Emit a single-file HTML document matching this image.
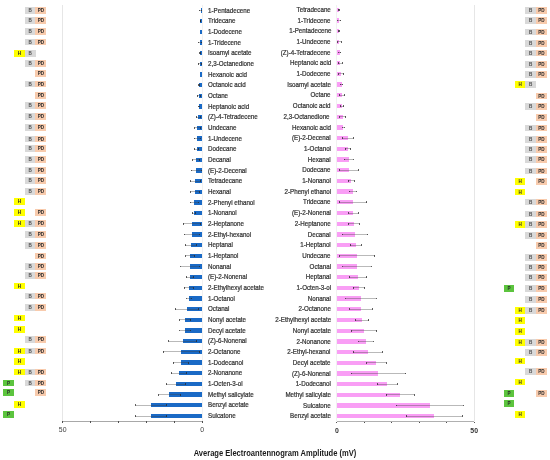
<!DOCTYPE html>
<html><head><meta charset="utf-8"><style>
html,body{margin:0;padding:0;background:#fff;}
body{width:550px;height:460px;position:relative;overflow:hidden;font-family:"Liberation Sans",sans-serif;}
.a{position:absolute;}
.t{position:absolute;font-size:6.7px;line-height:8px;height:8px;color:#333333;white-space:nowrap;-webkit-text-stroke:0.22px #333333;transform:scaleX(0.93);}
.ll{left:208.4px;transform-origin:0 50%;}
.rl{right:219.10px;text-align:right;transform-origin:100% 50%;}
.tag{position:absolute;width:10.9px;height:6.7px;line-height:7.90px;font-size:4.6px;font-weight:bold;text-align:center;color:#2a2a2a;}
.tg-B{color:#4d4d4d;}
.n{position:absolute;width:20px;text-align:center;font-size:6.9px;line-height:8px;color:#404040;}
.n.b{font-weight:bold;color:#333;}
.title{position:absolute;left:0;width:550px;top:447.6px;text-align:center;font-weight:bold;font-size:8.3px;line-height:10px;color:#1a1a1a;white-space:nowrap;transform:scaleX(0.91);transform-origin:274.9px 50%;}
</style></head><body>
<div class="a" style="left:62.10px;top:4.60px;width:1.00px;height:416.60px;background:#e6e6e6;"></div>
<div class="a" style="left:473.70px;top:4.60px;width:1.00px;height:416.60px;background:#e6e6e6;"></div>
<div class="a" style="left:201.70px;top:4.60px;width:1.00px;height:416.60px;background:#f1f1f1;"></div>
<div class="a" style="left:336.40px;top:4.60px;width:1.00px;height:416.60px;background:#f1f1f1;"></div>
<div class="a" style="left:62.30px;top:420.50px;width:140.20px;height:1.40px;background:#a8a8a8;"></div>
<div class="a" style="left:336.60px;top:421.00px;width:137.90px;height:1.40px;background:#b0b0b0;"></div>
<div class="a" style="left:62.10px;top:421.00px;width:1.00px;height:1.60px;background:#505050;"></div>
<div class="a" style="left:336.40px;top:421.50px;width:1.00px;height:1.60px;background:#505050;"></div>
<div class="a" style="left:90.02px;top:421.00px;width:1.00px;height:1.60px;background:#505050;"></div>
<div class="a" style="left:363.86px;top:421.50px;width:1.00px;height:1.60px;background:#505050;"></div>
<div class="a" style="left:117.94px;top:421.00px;width:1.00px;height:1.60px;background:#505050;"></div>
<div class="a" style="left:391.32px;top:421.50px;width:1.00px;height:1.60px;background:#505050;"></div>
<div class="a" style="left:145.86px;top:421.00px;width:1.00px;height:1.60px;background:#505050;"></div>
<div class="a" style="left:418.78px;top:421.50px;width:1.00px;height:1.60px;background:#505050;"></div>
<div class="a" style="left:173.78px;top:421.00px;width:1.00px;height:1.60px;background:#505050;"></div>
<div class="a" style="left:446.24px;top:421.50px;width:1.00px;height:1.60px;background:#505050;"></div>
<div class="a" style="left:201.70px;top:421.00px;width:1.00px;height:1.60px;background:#505050;"></div>
<div class="a" style="left:473.70px;top:421.50px;width:1.00px;height:1.60px;background:#505050;"></div>
<div class="a" style="left:200.50px;top:8.32px;width:1.70px;height:4.35px;background:#1a6ac6;"></div>
<div class="a" style="left:200.30px;top:19.00px;width:1.90px;height:4.35px;background:#1a6ac6;"></div>
<div class="a" style="left:200.10px;top:29.66px;width:2.10px;height:4.35px;background:#1a6ac6;"></div>
<div class="a" style="left:200.10px;top:40.34px;width:2.10px;height:4.35px;background:#1a6ac6;"></div>
<div class="a" style="left:200.10px;top:51.01px;width:2.10px;height:4.35px;background:#1a6ac6;"></div>
<div class="a" style="left:200.00px;top:61.68px;width:2.20px;height:4.35px;background:#1a6ac6;"></div>
<div class="a" style="left:199.80px;top:72.34px;width:2.40px;height:4.35px;background:#1a6ac6;"></div>
<div class="a" style="left:199.10px;top:83.02px;width:3.10px;height:4.35px;background:#1a6ac6;"></div>
<div class="a" style="left:198.70px;top:93.69px;width:3.50px;height:4.35px;background:#1a6ac6;"></div>
<div class="a" style="left:198.70px;top:104.36px;width:3.50px;height:4.35px;background:#1a6ac6;"></div>
<div class="a" style="left:198.00px;top:115.03px;width:4.20px;height:4.35px;background:#1a6ac6;"></div>
<div class="a" style="left:197.30px;top:125.70px;width:4.90px;height:4.35px;background:#1a6ac6;"></div>
<div class="a" style="left:197.30px;top:136.36px;width:4.90px;height:4.35px;background:#1a6ac6;"></div>
<div class="a" style="left:196.60px;top:147.03px;width:5.60px;height:4.35px;background:#1a6ac6;"></div>
<div class="a" style="left:196.10px;top:157.70px;width:6.10px;height:4.35px;background:#1a6ac6;"></div>
<div class="a" style="left:196.10px;top:168.38px;width:6.10px;height:4.35px;background:#1a6ac6;"></div>
<div class="a" style="left:195.30px;top:179.04px;width:6.90px;height:4.35px;background:#1a6ac6;"></div>
<div class="a" style="left:194.90px;top:189.71px;width:7.30px;height:4.35px;background:#1a6ac6;"></div>
<div class="a" style="left:194.00px;top:200.38px;width:8.20px;height:4.35px;background:#1a6ac6;"></div>
<div class="a" style="left:193.90px;top:211.05px;width:8.30px;height:4.35px;background:#1a6ac6;"></div>
<div class="a" style="left:192.10px;top:221.72px;width:10.10px;height:4.35px;background:#1a6ac6;"></div>
<div class="a" style="left:191.80px;top:232.39px;width:10.40px;height:4.35px;background:#1a6ac6;"></div>
<div class="a" style="left:190.70px;top:243.06px;width:11.50px;height:4.35px;background:#1a6ac6;"></div>
<div class="a" style="left:190.00px;top:253.73px;width:12.20px;height:4.35px;background:#1a6ac6;"></div>
<div class="a" style="left:189.90px;top:264.40px;width:12.30px;height:4.35px;background:#1a6ac6;"></div>
<div class="a" style="left:189.80px;top:275.07px;width:12.40px;height:4.35px;background:#1a6ac6;"></div>
<div class="a" style="left:188.70px;top:285.75px;width:13.50px;height:4.35px;background:#1a6ac6;"></div>
<div class="a" style="left:189.00px;top:296.41px;width:13.20px;height:4.35px;background:#1a6ac6;"></div>
<div class="a" style="left:186.90px;top:307.08px;width:15.30px;height:4.35px;background:#1a6ac6;"></div>
<div class="a" style="left:185.20px;top:317.75px;width:17.00px;height:4.35px;background:#1a6ac6;"></div>
<div class="a" style="left:185.20px;top:328.43px;width:17.00px;height:4.35px;background:#1a6ac6;"></div>
<div class="a" style="left:182.60px;top:339.09px;width:19.60px;height:4.35px;background:#1a6ac6;"></div>
<div class="a" style="left:181.30px;top:349.76px;width:20.90px;height:4.35px;background:#1a6ac6;"></div>
<div class="a" style="left:180.80px;top:360.44px;width:21.40px;height:4.35px;background:#1a6ac6;"></div>
<div class="a" style="left:178.80px;top:371.10px;width:23.40px;height:4.35px;background:#1a6ac6;"></div>
<div class="a" style="left:175.70px;top:381.77px;width:26.50px;height:4.35px;background:#1a6ac6;"></div>
<div class="a" style="left:169.40px;top:392.44px;width:32.80px;height:4.35px;background:#1a6ac6;"></div>
<div class="a" style="left:151.00px;top:403.12px;width:51.20px;height:4.35px;background:#1a6ac6;"></div>
<div class="a" style="left:151.00px;top:413.78px;width:51.20px;height:4.35px;background:#1a6ac6;"></div>
<div class="a" style="left:199.30px;top:10.05px;width:2.40px;height:0.90px;background:rgba(60,60,60,0.36);"></div>
<div class="a" style="left:198.90px;top:9.60px;width:0.80px;height:1.80px;background:rgba(40,40,40,0.75);"></div>
<div class="a" style="left:201.30px;top:9.60px;width:0.80px;height:1.80px;background:rgba(40,40,40,0.75);"></div>
<div class="a" style="left:200.00px;top:20.72px;width:0.60px;height:0.90px;background:rgba(60,60,60,0.36);"></div>
<div class="a" style="left:199.60px;top:20.27px;width:0.80px;height:1.80px;background:rgba(40,40,40,0.75);"></div>
<div class="a" style="left:200.20px;top:20.27px;width:0.80px;height:1.80px;background:rgba(40,40,40,0.75);"></div>
<div class="a" style="left:198.40px;top:42.06px;width:3.40px;height:0.90px;background:rgba(60,60,60,0.36);"></div>
<div class="a" style="left:198.00px;top:41.61px;width:0.80px;height:1.80px;background:rgba(40,40,40,0.75);"></div>
<div class="a" style="left:201.40px;top:41.61px;width:0.80px;height:1.80px;background:rgba(40,40,40,0.75);"></div>
<div class="a" style="left:199.50px;top:52.73px;width:1.20px;height:0.90px;background:rgba(60,60,60,0.36);"></div>
<div class="a" style="left:199.10px;top:52.28px;width:0.80px;height:1.80px;background:rgba(40,40,40,0.75);"></div>
<div class="a" style="left:200.30px;top:52.28px;width:0.80px;height:1.80px;background:rgba(40,40,40,0.75);"></div>
<div class="a" style="left:198.20px;top:63.40px;width:3.60px;height:0.90px;background:rgba(60,60,60,0.36);"></div>
<div class="a" style="left:197.80px;top:62.95px;width:0.80px;height:1.80px;background:rgba(40,40,40,0.75);"></div>
<div class="a" style="left:201.40px;top:62.95px;width:0.80px;height:1.80px;background:rgba(40,40,40,0.75);"></div>
<div class="a" style="left:198.60px;top:84.74px;width:1.00px;height:0.90px;background:rgba(60,60,60,0.36);"></div>
<div class="a" style="left:198.20px;top:84.29px;width:0.80px;height:1.80px;background:rgba(40,40,40,0.75);"></div>
<div class="a" style="left:199.20px;top:84.29px;width:0.80px;height:1.80px;background:rgba(40,40,40,0.75);"></div>
<div class="a" style="left:197.30px;top:95.41px;width:2.80px;height:0.90px;background:rgba(60,60,60,0.36);"></div>
<div class="a" style="left:196.90px;top:94.96px;width:0.80px;height:1.80px;background:rgba(40,40,40,0.75);"></div>
<div class="a" style="left:199.70px;top:94.96px;width:0.80px;height:1.80px;background:rgba(40,40,40,0.75);"></div>
<div class="a" style="left:198.20px;top:106.08px;width:1.00px;height:0.90px;background:rgba(60,60,60,0.36);"></div>
<div class="a" style="left:197.80px;top:105.63px;width:0.80px;height:1.80px;background:rgba(40,40,40,0.75);"></div>
<div class="a" style="left:198.80px;top:105.63px;width:0.80px;height:1.80px;background:rgba(40,40,40,0.75);"></div>
<div class="a" style="left:196.10px;top:116.75px;width:3.80px;height:0.90px;background:rgba(60,60,60,0.36);"></div>
<div class="a" style="left:195.70px;top:116.30px;width:0.80px;height:1.80px;background:rgba(40,40,40,0.75);"></div>
<div class="a" style="left:199.50px;top:116.30px;width:0.80px;height:1.80px;background:rgba(40,40,40,0.75);"></div>
<div class="a" style="left:194.60px;top:127.42px;width:5.40px;height:0.90px;background:rgba(60,60,60,0.36);"></div>
<div class="a" style="left:194.20px;top:126.97px;width:0.80px;height:1.80px;background:rgba(40,40,40,0.75);"></div>
<div class="a" style="left:199.60px;top:126.97px;width:0.80px;height:1.80px;background:rgba(40,40,40,0.75);"></div>
<div class="a" style="left:194.40px;top:138.09px;width:5.80px;height:0.90px;background:rgba(60,60,60,0.36);"></div>
<div class="a" style="left:194.00px;top:137.64px;width:0.80px;height:1.80px;background:rgba(40,40,40,0.75);"></div>
<div class="a" style="left:199.80px;top:137.64px;width:0.80px;height:1.80px;background:rgba(40,40,40,0.75);"></div>
<div class="a" style="left:194.40px;top:148.76px;width:4.40px;height:0.90px;background:rgba(60,60,60,0.36);"></div>
<div class="a" style="left:194.00px;top:148.31px;width:0.80px;height:1.80px;background:rgba(40,40,40,0.75);"></div>
<div class="a" style="left:198.40px;top:148.31px;width:0.80px;height:1.80px;background:rgba(40,40,40,0.75);"></div>
<div class="a" style="left:192.60px;top:159.43px;width:7.00px;height:0.90px;background:rgba(60,60,60,0.36);"></div>
<div class="a" style="left:192.20px;top:158.98px;width:0.80px;height:1.80px;background:rgba(40,40,40,0.75);"></div>
<div class="a" style="left:199.20px;top:158.98px;width:0.80px;height:1.80px;background:rgba(40,40,40,0.75);"></div>
<div class="a" style="left:191.30px;top:170.10px;width:9.60px;height:0.90px;background:rgba(60,60,60,0.36);"></div>
<div class="a" style="left:190.90px;top:169.65px;width:0.80px;height:1.80px;background:rgba(40,40,40,0.75);"></div>
<div class="a" style="left:200.50px;top:169.65px;width:0.80px;height:1.80px;background:rgba(40,40,40,0.75);"></div>
<div class="a" style="left:190.40px;top:180.77px;width:9.80px;height:0.90px;background:rgba(60,60,60,0.36);"></div>
<div class="a" style="left:190.00px;top:180.32px;width:0.80px;height:1.80px;background:rgba(40,40,40,0.75);"></div>
<div class="a" style="left:199.80px;top:180.32px;width:0.80px;height:1.80px;background:rgba(40,40,40,0.75);"></div>
<div class="a" style="left:190.70px;top:191.44px;width:8.40px;height:0.90px;background:rgba(60,60,60,0.36);"></div>
<div class="a" style="left:190.30px;top:190.99px;width:0.80px;height:1.80px;background:rgba(40,40,40,0.75);"></div>
<div class="a" style="left:198.70px;top:190.99px;width:0.80px;height:1.80px;background:rgba(40,40,40,0.75);"></div>
<div class="a" style="left:190.00px;top:202.11px;width:8.00px;height:0.90px;background:rgba(60,60,60,0.36);"></div>
<div class="a" style="left:189.60px;top:201.66px;width:0.80px;height:1.80px;background:rgba(40,40,40,0.75);"></div>
<div class="a" style="left:197.60px;top:201.66px;width:0.80px;height:1.80px;background:rgba(40,40,40,0.75);"></div>
<div class="a" style="left:192.20px;top:212.78px;width:3.40px;height:0.90px;background:rgba(60,60,60,0.36);"></div>
<div class="a" style="left:191.80px;top:212.33px;width:0.80px;height:1.80px;background:rgba(40,40,40,0.75);"></div>
<div class="a" style="left:195.20px;top:212.33px;width:0.80px;height:1.80px;background:rgba(40,40,40,0.75);"></div>
<div class="a" style="left:183.40px;top:223.45px;width:17.40px;height:0.90px;background:rgba(60,60,60,0.36);"></div>
<div class="a" style="left:183.00px;top:223.00px;width:0.80px;height:1.80px;background:rgba(40,40,40,0.75);"></div>
<div class="a" style="left:200.40px;top:223.00px;width:0.80px;height:1.80px;background:rgba(40,40,40,0.75);"></div>
<div class="a" style="left:184.00px;top:234.12px;width:15.60px;height:0.90px;background:rgba(60,60,60,0.36);"></div>
<div class="a" style="left:183.60px;top:233.67px;width:0.80px;height:1.80px;background:rgba(40,40,40,0.75);"></div>
<div class="a" style="left:199.20px;top:233.67px;width:0.80px;height:1.80px;background:rgba(40,40,40,0.75);"></div>
<div class="a" style="left:185.20px;top:244.79px;width:11.00px;height:0.90px;background:rgba(60,60,60,0.36);"></div>
<div class="a" style="left:184.80px;top:244.34px;width:0.80px;height:1.80px;background:rgba(40,40,40,0.75);"></div>
<div class="a" style="left:195.80px;top:244.34px;width:0.80px;height:1.80px;background:rgba(40,40,40,0.75);"></div>
<div class="a" style="left:185.50px;top:255.46px;width:9.00px;height:0.90px;background:rgba(60,60,60,0.36);"></div>
<div class="a" style="left:185.10px;top:255.01px;width:0.80px;height:1.80px;background:rgba(40,40,40,0.75);"></div>
<div class="a" style="left:194.10px;top:255.01px;width:0.80px;height:1.80px;background:rgba(40,40,40,0.75);"></div>
<div class="a" style="left:180.80px;top:266.13px;width:18.20px;height:0.90px;background:rgba(60,60,60,0.36);"></div>
<div class="a" style="left:180.40px;top:265.68px;width:0.80px;height:1.80px;background:rgba(40,40,40,0.75);"></div>
<div class="a" style="left:198.60px;top:265.68px;width:0.80px;height:1.80px;background:rgba(40,40,40,0.75);"></div>
<div class="a" style="left:186.00px;top:276.80px;width:7.60px;height:0.90px;background:rgba(60,60,60,0.36);"></div>
<div class="a" style="left:185.60px;top:276.35px;width:0.80px;height:1.80px;background:rgba(40,40,40,0.75);"></div>
<div class="a" style="left:193.20px;top:276.35px;width:0.80px;height:1.80px;background:rgba(40,40,40,0.75);"></div>
<div class="a" style="left:184.30px;top:287.47px;width:8.80px;height:0.90px;background:rgba(60,60,60,0.36);"></div>
<div class="a" style="left:183.90px;top:287.02px;width:0.80px;height:1.80px;background:rgba(40,40,40,0.75);"></div>
<div class="a" style="left:192.70px;top:287.02px;width:0.80px;height:1.80px;background:rgba(40,40,40,0.75);"></div>
<div class="a" style="left:186.60px;top:298.14px;width:4.80px;height:0.90px;background:rgba(60,60,60,0.36);"></div>
<div class="a" style="left:186.20px;top:297.69px;width:0.80px;height:1.80px;background:rgba(40,40,40,0.75);"></div>
<div class="a" style="left:191.00px;top:297.69px;width:0.80px;height:1.80px;background:rgba(40,40,40,0.75);"></div>
<div class="a" style="left:175.30px;top:308.81px;width:23.20px;height:0.90px;background:rgba(60,60,60,0.36);"></div>
<div class="a" style="left:174.90px;top:308.36px;width:0.80px;height:1.80px;background:rgba(40,40,40,0.75);"></div>
<div class="a" style="left:198.10px;top:308.36px;width:0.80px;height:1.80px;background:rgba(40,40,40,0.75);"></div>
<div class="a" style="left:179.60px;top:319.48px;width:11.20px;height:0.90px;background:rgba(60,60,60,0.36);"></div>
<div class="a" style="left:179.20px;top:319.03px;width:0.80px;height:1.80px;background:rgba(40,40,40,0.75);"></div>
<div class="a" style="left:190.40px;top:319.03px;width:0.80px;height:1.80px;background:rgba(40,40,40,0.75);"></div>
<div class="a" style="left:179.60px;top:330.15px;width:11.20px;height:0.90px;background:rgba(60,60,60,0.36);"></div>
<div class="a" style="left:179.20px;top:329.70px;width:0.80px;height:1.80px;background:rgba(40,40,40,0.75);"></div>
<div class="a" style="left:190.40px;top:329.70px;width:0.80px;height:1.80px;background:rgba(40,40,40,0.75);"></div>
<div class="a" style="left:168.50px;top:340.82px;width:28.20px;height:0.90px;background:rgba(60,60,60,0.36);"></div>
<div class="a" style="left:168.10px;top:340.37px;width:0.80px;height:1.80px;background:rgba(40,40,40,0.75);"></div>
<div class="a" style="left:196.30px;top:340.37px;width:0.80px;height:1.80px;background:rgba(40,40,40,0.75);"></div>
<div class="a" style="left:163.00px;top:351.49px;width:36.60px;height:0.90px;background:rgba(60,60,60,0.36);"></div>
<div class="a" style="left:162.60px;top:351.04px;width:0.80px;height:1.80px;background:rgba(40,40,40,0.75);"></div>
<div class="a" style="left:199.20px;top:351.04px;width:0.80px;height:1.80px;background:rgba(40,40,40,0.75);"></div>
<div class="a" style="left:173.20px;top:362.16px;width:15.20px;height:0.90px;background:rgba(60,60,60,0.36);"></div>
<div class="a" style="left:172.80px;top:361.71px;width:0.80px;height:1.80px;background:rgba(40,40,40,0.75);"></div>
<div class="a" style="left:188.00px;top:361.71px;width:0.80px;height:1.80px;background:rgba(40,40,40,0.75);"></div>
<div class="a" style="left:171.10px;top:372.83px;width:15.40px;height:0.90px;background:rgba(60,60,60,0.36);"></div>
<div class="a" style="left:170.70px;top:372.38px;width:0.80px;height:1.80px;background:rgba(40,40,40,0.75);"></div>
<div class="a" style="left:186.10px;top:372.38px;width:0.80px;height:1.80px;background:rgba(40,40,40,0.75);"></div>
<div class="a" style="left:166.30px;top:383.50px;width:18.80px;height:0.90px;background:rgba(60,60,60,0.36);"></div>
<div class="a" style="left:165.90px;top:383.05px;width:0.80px;height:1.80px;background:rgba(40,40,40,0.75);"></div>
<div class="a" style="left:184.70px;top:383.05px;width:0.80px;height:1.80px;background:rgba(40,40,40,0.75);"></div>
<div class="a" style="left:158.70px;top:394.17px;width:21.40px;height:0.90px;background:rgba(60,60,60,0.36);"></div>
<div class="a" style="left:158.30px;top:393.72px;width:0.80px;height:1.80px;background:rgba(40,40,40,0.75);"></div>
<div class="a" style="left:179.70px;top:393.72px;width:0.80px;height:1.80px;background:rgba(40,40,40,0.75);"></div>
<div class="a" style="left:135.80px;top:404.84px;width:30.40px;height:0.90px;background:rgba(60,60,60,0.36);"></div>
<div class="a" style="left:135.40px;top:404.39px;width:0.80px;height:1.80px;background:rgba(40,40,40,0.75);"></div>
<div class="a" style="left:165.80px;top:404.39px;width:0.80px;height:1.80px;background:rgba(40,40,40,0.75);"></div>
<div class="a" style="left:135.20px;top:415.51px;width:31.60px;height:0.90px;background:rgba(60,60,60,0.36);"></div>
<div class="a" style="left:134.80px;top:415.06px;width:0.80px;height:1.80px;background:rgba(40,40,40,0.75);"></div>
<div class="a" style="left:166.40px;top:415.06px;width:0.80px;height:1.80px;background:rgba(40,40,40,0.75);"></div>
<div class="a" style="left:336.90px;top:7.52px;width:1.90px;height:4.35px;background:#f99ef5;"></div>
<div class="a" style="left:336.90px;top:18.22px;width:2.20px;height:4.35px;background:#f99ef5;"></div>
<div class="a" style="left:336.90px;top:28.92px;width:1.90px;height:4.35px;background:#f99ef5;"></div>
<div class="a" style="left:336.90px;top:39.62px;width:2.60px;height:4.35px;background:#f99ef5;"></div>
<div class="a" style="left:336.90px;top:50.33px;width:2.90px;height:4.35px;background:#f99ef5;"></div>
<div class="a" style="left:336.90px;top:61.03px;width:3.50px;height:4.35px;background:#f99ef5;"></div>
<div class="a" style="left:336.90px;top:71.72px;width:4.20px;height:4.35px;background:#f99ef5;"></div>
<div class="a" style="left:336.90px;top:82.42px;width:4.70px;height:4.35px;background:#f99ef5;"></div>
<div class="a" style="left:336.90px;top:93.12px;width:5.10px;height:4.35px;background:#f99ef5;"></div>
<div class="a" style="left:336.90px;top:103.83px;width:5.10px;height:4.35px;background:#f99ef5;"></div>
<div class="a" style="left:336.90px;top:114.53px;width:5.90px;height:4.35px;background:#f99ef5;"></div>
<div class="a" style="left:336.90px;top:125.22px;width:6.40px;height:4.35px;background:#f99ef5;"></div>
<div class="a" style="left:336.90px;top:135.92px;width:10.80px;height:4.35px;background:#f99ef5;"></div>
<div class="a" style="left:336.90px;top:146.62px;width:11.10px;height:4.35px;background:#f99ef5;"></div>
<div class="a" style="left:336.90px;top:157.32px;width:11.70px;height:4.35px;background:#f99ef5;"></div>
<div class="a" style="left:336.90px;top:168.02px;width:12.00px;height:4.35px;background:#f99ef5;"></div>
<div class="a" style="left:336.90px;top:178.72px;width:14.10px;height:4.35px;background:#f99ef5;"></div>
<div class="a" style="left:336.90px;top:189.42px;width:15.80px;height:4.35px;background:#f99ef5;"></div>
<div class="a" style="left:336.90px;top:200.12px;width:16.00px;height:4.35px;background:#f99ef5;"></div>
<div class="a" style="left:336.90px;top:210.82px;width:16.40px;height:4.35px;background:#f99ef5;"></div>
<div class="a" style="left:336.90px;top:221.52px;width:16.90px;height:4.35px;background:#f99ef5;"></div>
<div class="a" style="left:336.90px;top:232.22px;width:18.10px;height:4.35px;background:#f99ef5;"></div>
<div class="a" style="left:336.90px;top:242.92px;width:19.00px;height:4.35px;background:#f99ef5;"></div>
<div class="a" style="left:336.90px;top:253.62px;width:20.20px;height:4.35px;background:#f99ef5;"></div>
<div class="a" style="left:336.90px;top:264.32px;width:20.20px;height:4.35px;background:#f99ef5;"></div>
<div class="a" style="left:336.90px;top:275.02px;width:21.10px;height:4.35px;background:#f99ef5;"></div>
<div class="a" style="left:336.90px;top:285.72px;width:21.90px;height:4.35px;background:#f99ef5;"></div>
<div class="a" style="left:336.90px;top:296.42px;width:24.20px;height:4.35px;background:#f99ef5;"></div>
<div class="a" style="left:336.90px;top:307.12px;width:24.20px;height:4.35px;background:#f99ef5;"></div>
<div class="a" style="left:336.90px;top:317.82px;width:25.10px;height:4.35px;background:#f99ef5;"></div>
<div class="a" style="left:336.90px;top:328.52px;width:27.10px;height:4.35px;background:#f99ef5;"></div>
<div class="a" style="left:336.90px;top:339.22px;width:29.10px;height:4.35px;background:#f99ef5;"></div>
<div class="a" style="left:336.90px;top:349.92px;width:30.80px;height:4.35px;background:#f99ef5;"></div>
<div class="a" style="left:336.90px;top:360.62px;width:39.30px;height:4.35px;background:#f99ef5;"></div>
<div class="a" style="left:336.90px;top:371.32px;width:41.40px;height:4.35px;background:#f99ef5;"></div>
<div class="a" style="left:336.90px;top:382.02px;width:50.30px;height:4.35px;background:#f99ef5;"></div>
<div class="a" style="left:336.90px;top:392.72px;width:63.20px;height:4.35px;background:#f99ef5;"></div>
<div class="a" style="left:336.90px;top:403.42px;width:92.80px;height:4.35px;background:#f99ef5;"></div>
<div class="a" style="left:336.90px;top:414.12px;width:97.30px;height:4.35px;background:#f99ef5;"></div>
<div class="a" style="left:338.10px;top:9.25px;width:1.40px;height:0.90px;background:rgba(60,60,60,0.36);"></div>
<div class="a" style="left:337.70px;top:8.80px;width:0.80px;height:1.80px;background:rgba(40,40,40,0.75);"></div>
<div class="a" style="left:339.10px;top:8.80px;width:0.80px;height:1.80px;background:rgba(40,40,40,0.75);"></div>
<div class="a" style="left:337.60px;top:19.95px;width:3.00px;height:0.90px;background:rgba(60,60,60,0.36);"></div>
<div class="a" style="left:337.20px;top:19.50px;width:0.80px;height:1.80px;background:rgba(40,40,40,0.75);"></div>
<div class="a" style="left:340.20px;top:19.50px;width:0.80px;height:1.80px;background:rgba(40,40,40,0.75);"></div>
<div class="a" style="left:338.10px;top:30.65px;width:1.40px;height:0.90px;background:rgba(60,60,60,0.36);"></div>
<div class="a" style="left:337.70px;top:30.20px;width:0.80px;height:1.80px;background:rgba(40,40,40,0.75);"></div>
<div class="a" style="left:339.10px;top:30.20px;width:0.80px;height:1.80px;background:rgba(40,40,40,0.75);"></div>
<div class="a" style="left:337.80px;top:41.35px;width:3.40px;height:0.90px;background:rgba(60,60,60,0.36);"></div>
<div class="a" style="left:337.40px;top:40.90px;width:0.80px;height:1.80px;background:rgba(40,40,40,0.75);"></div>
<div class="a" style="left:340.80px;top:40.90px;width:0.80px;height:1.80px;background:rgba(40,40,40,0.75);"></div>
<div class="a" style="left:338.80px;top:52.05px;width:2.00px;height:0.90px;background:rgba(60,60,60,0.36);"></div>
<div class="a" style="left:338.40px;top:51.60px;width:0.80px;height:1.80px;background:rgba(40,40,40,0.75);"></div>
<div class="a" style="left:340.40px;top:51.60px;width:0.80px;height:1.80px;background:rgba(40,40,40,0.75);"></div>
<div class="a" style="left:338.30px;top:62.75px;width:4.20px;height:0.90px;background:rgba(60,60,60,0.36);"></div>
<div class="a" style="left:337.90px;top:62.30px;width:0.80px;height:1.80px;background:rgba(40,40,40,0.75);"></div>
<div class="a" style="left:342.10px;top:62.30px;width:0.80px;height:1.80px;background:rgba(40,40,40,0.75);"></div>
<div class="a" style="left:338.60px;top:73.45px;width:5.00px;height:0.90px;background:rgba(60,60,60,0.36);"></div>
<div class="a" style="left:338.20px;top:73.00px;width:0.80px;height:1.80px;background:rgba(40,40,40,0.75);"></div>
<div class="a" style="left:343.20px;top:73.00px;width:0.80px;height:1.80px;background:rgba(40,40,40,0.75);"></div>
<div class="a" style="left:340.40px;top:84.15px;width:2.40px;height:0.90px;background:rgba(60,60,60,0.36);"></div>
<div class="a" style="left:340.00px;top:83.70px;width:0.80px;height:1.80px;background:rgba(40,40,40,0.75);"></div>
<div class="a" style="left:342.40px;top:83.70px;width:0.80px;height:1.80px;background:rgba(40,40,40,0.75);"></div>
<div class="a" style="left:339.40px;top:94.85px;width:5.20px;height:0.90px;background:rgba(60,60,60,0.36);"></div>
<div class="a" style="left:339.00px;top:94.40px;width:0.80px;height:1.80px;background:rgba(40,40,40,0.75);"></div>
<div class="a" style="left:344.20px;top:94.40px;width:0.80px;height:1.80px;background:rgba(40,40,40,0.75);"></div>
<div class="a" style="left:340.30px;top:105.55px;width:3.40px;height:0.90px;background:rgba(60,60,60,0.36);"></div>
<div class="a" style="left:339.90px;top:105.10px;width:0.80px;height:1.80px;background:rgba(40,40,40,0.75);"></div>
<div class="a" style="left:343.30px;top:105.10px;width:0.80px;height:1.80px;background:rgba(40,40,40,0.75);"></div>
<div class="a" style="left:339.80px;top:116.25px;width:6.00px;height:0.90px;background:rgba(60,60,60,0.36);"></div>
<div class="a" style="left:339.40px;top:115.80px;width:0.80px;height:1.80px;background:rgba(40,40,40,0.75);"></div>
<div class="a" style="left:345.40px;top:115.80px;width:0.80px;height:1.80px;background:rgba(40,40,40,0.75);"></div>
<div class="a" style="left:342.60px;top:126.95px;width:1.40px;height:0.90px;background:rgba(60,60,60,0.36);"></div>
<div class="a" style="left:342.20px;top:126.50px;width:0.80px;height:1.80px;background:rgba(40,40,40,0.75);"></div>
<div class="a" style="left:343.60px;top:126.50px;width:0.80px;height:1.80px;background:rgba(40,40,40,0.75);"></div>
<div class="a" style="left:342.10px;top:137.65px;width:11.20px;height:0.90px;background:rgba(60,60,60,0.36);"></div>
<div class="a" style="left:341.70px;top:137.20px;width:0.80px;height:1.80px;background:rgba(40,40,40,0.75);"></div>
<div class="a" style="left:352.90px;top:137.20px;width:0.80px;height:1.80px;background:rgba(40,40,40,0.75);"></div>
<div class="a" style="left:345.30px;top:148.35px;width:5.40px;height:0.90px;background:rgba(60,60,60,0.36);"></div>
<div class="a" style="left:344.90px;top:147.90px;width:0.80px;height:1.80px;background:rgba(40,40,40,0.75);"></div>
<div class="a" style="left:350.30px;top:147.90px;width:0.80px;height:1.80px;background:rgba(40,40,40,0.75);"></div>
<div class="a" style="left:343.90px;top:159.05px;width:9.40px;height:0.90px;background:rgba(60,60,60,0.36);"></div>
<div class="a" style="left:343.50px;top:158.60px;width:0.80px;height:1.80px;background:rgba(40,40,40,0.75);"></div>
<div class="a" style="left:352.90px;top:158.60px;width:0.80px;height:1.80px;background:rgba(40,40,40,0.75);"></div>
<div class="a" style="left:339.70px;top:169.75px;width:18.40px;height:0.90px;background:rgba(60,60,60,0.36);"></div>
<div class="a" style="left:339.30px;top:169.30px;width:0.80px;height:1.80px;background:rgba(40,40,40,0.75);"></div>
<div class="a" style="left:357.70px;top:169.30px;width:0.80px;height:1.80px;background:rgba(40,40,40,0.75);"></div>
<div class="a" style="left:347.90px;top:180.45px;width:6.20px;height:0.90px;background:rgba(60,60,60,0.36);"></div>
<div class="a" style="left:347.50px;top:180.00px;width:0.80px;height:1.80px;background:rgba(40,40,40,0.75);"></div>
<div class="a" style="left:353.70px;top:180.00px;width:0.80px;height:1.80px;background:rgba(40,40,40,0.75);"></div>
<div class="a" style="left:349.20px;top:191.15px;width:7.00px;height:0.90px;background:rgba(60,60,60,0.36);"></div>
<div class="a" style="left:348.80px;top:190.70px;width:0.80px;height:1.80px;background:rgba(40,40,40,0.75);"></div>
<div class="a" style="left:355.80px;top:190.70px;width:0.80px;height:1.80px;background:rgba(40,40,40,0.75);"></div>
<div class="a" style="left:339.10px;top:201.85px;width:27.60px;height:0.90px;background:rgba(60,60,60,0.36);"></div>
<div class="a" style="left:338.70px;top:201.40px;width:0.80px;height:1.80px;background:rgba(40,40,40,0.75);"></div>
<div class="a" style="left:366.30px;top:201.40px;width:0.80px;height:1.80px;background:rgba(40,40,40,0.75);"></div>
<div class="a" style="left:348.50px;top:212.55px;width:9.60px;height:0.90px;background:rgba(60,60,60,0.36);"></div>
<div class="a" style="left:348.10px;top:212.10px;width:0.80px;height:1.80px;background:rgba(40,40,40,0.75);"></div>
<div class="a" style="left:357.70px;top:212.10px;width:0.80px;height:1.80px;background:rgba(40,40,40,0.75);"></div>
<div class="a" style="left:348.30px;top:223.25px;width:11.00px;height:0.90px;background:rgba(60,60,60,0.36);"></div>
<div class="a" style="left:347.90px;top:222.80px;width:0.80px;height:1.80px;background:rgba(40,40,40,0.75);"></div>
<div class="a" style="left:358.90px;top:222.80px;width:0.80px;height:1.80px;background:rgba(40,40,40,0.75);"></div>
<div class="a" style="left:342.30px;top:233.95px;width:25.40px;height:0.90px;background:rgba(60,60,60,0.36);"></div>
<div class="a" style="left:341.90px;top:233.50px;width:0.80px;height:1.80px;background:rgba(40,40,40,0.75);"></div>
<div class="a" style="left:367.30px;top:233.50px;width:0.80px;height:1.80px;background:rgba(40,40,40,0.75);"></div>
<div class="a" style="left:350.40px;top:244.65px;width:11.00px;height:0.90px;background:rgba(60,60,60,0.36);"></div>
<div class="a" style="left:350.00px;top:244.20px;width:0.80px;height:1.80px;background:rgba(40,40,40,0.75);"></div>
<div class="a" style="left:361.00px;top:244.20px;width:0.80px;height:1.80px;background:rgba(40,40,40,0.75);"></div>
<div class="a" style="left:339.50px;top:255.35px;width:35.20px;height:0.90px;background:rgba(60,60,60,0.36);"></div>
<div class="a" style="left:339.10px;top:254.90px;width:0.80px;height:1.80px;background:rgba(40,40,40,0.75);"></div>
<div class="a" style="left:374.30px;top:254.90px;width:0.80px;height:1.80px;background:rgba(40,40,40,0.75);"></div>
<div class="a" style="left:342.70px;top:266.05px;width:28.80px;height:0.90px;background:rgba(60,60,60,0.36);"></div>
<div class="a" style="left:342.30px;top:265.60px;width:0.80px;height:1.80px;background:rgba(40,40,40,0.75);"></div>
<div class="a" style="left:371.10px;top:265.60px;width:0.80px;height:1.80px;background:rgba(40,40,40,0.75);"></div>
<div class="a" style="left:349.30px;top:276.75px;width:17.40px;height:0.90px;background:rgba(60,60,60,0.36);"></div>
<div class="a" style="left:348.90px;top:276.30px;width:0.80px;height:1.80px;background:rgba(40,40,40,0.75);"></div>
<div class="a" style="left:366.30px;top:276.30px;width:0.80px;height:1.80px;background:rgba(40,40,40,0.75);"></div>
<div class="a" style="left:353.00px;top:287.45px;width:11.60px;height:0.90px;background:rgba(60,60,60,0.36);"></div>
<div class="a" style="left:352.60px;top:287.00px;width:0.80px;height:1.80px;background:rgba(40,40,40,0.75);"></div>
<div class="a" style="left:364.20px;top:287.00px;width:0.80px;height:1.80px;background:rgba(40,40,40,0.75);"></div>
<div class="a" style="left:345.80px;top:298.15px;width:30.60px;height:0.90px;background:rgba(60,60,60,0.36);"></div>
<div class="a" style="left:345.40px;top:297.70px;width:0.80px;height:1.80px;background:rgba(40,40,40,0.75);"></div>
<div class="a" style="left:376.00px;top:297.70px;width:0.80px;height:1.80px;background:rgba(40,40,40,0.75);"></div>
<div class="a" style="left:349.80px;top:308.85px;width:22.60px;height:0.90px;background:rgba(60,60,60,0.36);"></div>
<div class="a" style="left:349.40px;top:308.40px;width:0.80px;height:1.80px;background:rgba(40,40,40,0.75);"></div>
<div class="a" style="left:372.00px;top:308.40px;width:0.80px;height:1.80px;background:rgba(40,40,40,0.75);"></div>
<div class="a" style="left:355.40px;top:319.55px;width:13.20px;height:0.90px;background:rgba(60,60,60,0.36);"></div>
<div class="a" style="left:355.00px;top:319.10px;width:0.80px;height:1.80px;background:rgba(40,40,40,0.75);"></div>
<div class="a" style="left:368.20px;top:319.10px;width:0.80px;height:1.80px;background:rgba(40,40,40,0.75);"></div>
<div class="a" style="left:351.30px;top:330.25px;width:25.40px;height:0.90px;background:rgba(60,60,60,0.36);"></div>
<div class="a" style="left:350.90px;top:329.80px;width:0.80px;height:1.80px;background:rgba(40,40,40,0.75);"></div>
<div class="a" style="left:376.30px;top:329.80px;width:0.80px;height:1.80px;background:rgba(40,40,40,0.75);"></div>
<div class="a" style="left:358.70px;top:340.95px;width:14.60px;height:0.90px;background:rgba(60,60,60,0.36);"></div>
<div class="a" style="left:358.30px;top:340.50px;width:0.80px;height:1.80px;background:rgba(40,40,40,0.75);"></div>
<div class="a" style="left:372.90px;top:340.50px;width:0.80px;height:1.80px;background:rgba(40,40,40,0.75);"></div>
<div class="a" style="left:353.10px;top:351.65px;width:29.20px;height:0.90px;background:rgba(60,60,60,0.36);"></div>
<div class="a" style="left:352.70px;top:351.20px;width:0.80px;height:1.80px;background:rgba(40,40,40,0.75);"></div>
<div class="a" style="left:381.90px;top:351.20px;width:0.80px;height:1.80px;background:rgba(40,40,40,0.75);"></div>
<div class="a" style="left:366.50px;top:362.35px;width:19.40px;height:0.90px;background:rgba(60,60,60,0.36);"></div>
<div class="a" style="left:366.10px;top:361.90px;width:0.80px;height:1.80px;background:rgba(40,40,40,0.75);"></div>
<div class="a" style="left:385.50px;top:361.90px;width:0.80px;height:1.80px;background:rgba(40,40,40,0.75);"></div>
<div class="a" style="left:350.90px;top:373.05px;width:54.80px;height:0.90px;background:rgba(60,60,60,0.36);"></div>
<div class="a" style="left:350.50px;top:372.60px;width:0.80px;height:1.80px;background:rgba(40,40,40,0.75);"></div>
<div class="a" style="left:405.30px;top:372.60px;width:0.80px;height:1.80px;background:rgba(40,40,40,0.75);"></div>
<div class="a" style="left:377.10px;top:383.75px;width:20.20px;height:0.90px;background:rgba(60,60,60,0.36);"></div>
<div class="a" style="left:376.70px;top:383.30px;width:0.80px;height:1.80px;background:rgba(40,40,40,0.75);"></div>
<div class="a" style="left:396.90px;top:383.30px;width:0.80px;height:1.80px;background:rgba(40,40,40,0.75);"></div>
<div class="a" style="left:386.30px;top:394.45px;width:27.60px;height:0.90px;background:rgba(60,60,60,0.36);"></div>
<div class="a" style="left:385.90px;top:394.00px;width:0.80px;height:1.80px;background:rgba(40,40,40,0.75);"></div>
<div class="a" style="left:413.50px;top:394.00px;width:0.80px;height:1.80px;background:rgba(40,40,40,0.75);"></div>
<div class="a" style="left:395.90px;top:405.15px;width:67.60px;height:0.90px;background:rgba(60,60,60,0.36);"></div>
<div class="a" style="left:395.50px;top:404.70px;width:0.80px;height:1.80px;background:rgba(40,40,40,0.75);"></div>
<div class="a" style="left:463.10px;top:404.70px;width:0.80px;height:1.80px;background:rgba(40,40,40,0.75);"></div>
<div class="a" style="left:406.20px;top:415.85px;width:56.00px;height:0.90px;background:rgba(60,60,60,0.36);"></div>
<div class="a" style="left:405.80px;top:415.40px;width:0.80px;height:1.80px;background:rgba(40,40,40,0.75);"></div>
<div class="a" style="left:461.80px;top:415.40px;width:0.80px;height:1.80px;background:rgba(40,40,40,0.75);"></div>
<div class="t ll" style="top:6.60px">1-Pentadecene</div>
<div class="t ll" style="top:17.27px">Tridecane</div>
<div class="t ll" style="top:27.94px">1-Dodecene</div>
<div class="t ll" style="top:38.61px">1-Tridecene</div>
<div class="t ll" style="top:49.28px">Isoamyl acetate</div>
<div class="t ll" style="top:59.95px">2,3-Octanedione</div>
<div class="t ll" style="top:70.62px">Hexanoic acid</div>
<div class="t ll" style="top:81.29px">Octanoic acid</div>
<div class="t ll" style="top:91.96px">Octane</div>
<div class="t ll" style="top:102.63px">Heptanoic acid</div>
<div class="t ll" style="top:113.30px">(Z)-4-Tetradecene</div>
<div class="t ll" style="top:123.97px">Undecane</div>
<div class="t ll" style="top:134.64px">1-Undecene</div>
<div class="t ll" style="top:145.31px">Dodecane</div>
<div class="t ll" style="top:155.98px">Decanal</div>
<div class="t ll" style="top:166.65px">(E)-2-Decenal</div>
<div class="t ll" style="top:177.32px">Tetradecane</div>
<div class="t ll" style="top:187.99px">Hexanal</div>
<div class="t ll" style="top:198.66px">2-Phenyl ethanol</div>
<div class="t ll" style="top:209.33px">1-Nonanol</div>
<div class="t ll" style="top:220.00px">2-Heptanone</div>
<div class="t ll" style="top:230.67px">2-Ethyl-hexanol</div>
<div class="t ll" style="top:241.34px">Heptanal</div>
<div class="t ll" style="top:252.01px">1-Heptanol</div>
<div class="t ll" style="top:262.68px">Nonanal</div>
<div class="t ll" style="top:273.35px">(E)-2-Nonenal</div>
<div class="t ll" style="top:284.02px">2-Ethylhexyl acetate</div>
<div class="t ll" style="top:294.69px">1-Octanol</div>
<div class="t ll" style="top:305.36px">Octanal</div>
<div class="t ll" style="top:316.03px">Nonyl acetate</div>
<div class="t ll" style="top:326.70px">Decyl acetate</div>
<div class="t ll" style="top:337.37px">(Z)-6-Nonenal</div>
<div class="t ll" style="top:348.04px">2-Octanone</div>
<div class="t ll" style="top:358.71px">1-Dodecanol</div>
<div class="t ll" style="top:369.38px">2-Nonanone</div>
<div class="t ll" style="top:380.05px">1-Octen-3-ol</div>
<div class="t ll" style="top:390.72px">Methyl salicylate</div>
<div class="t ll" style="top:401.39px">Benzyl acetate</div>
<div class="t ll" style="top:412.06px">Sulcatone</div>
<div class="t rl" style="top:5.80px">Tetradecane</div>
<div class="t rl" style="top:16.50px">1-Tridecene</div>
<div class="t rl" style="top:27.20px">1-Pentadecene</div>
<div class="t rl" style="top:37.90px">1-Undecene</div>
<div class="t rl" style="top:48.60px">(Z)-4-Tetradecene</div>
<div class="t rl" style="top:59.30px">Heptanoic acid</div>
<div class="t rl" style="top:70.00px">1-Dodecene</div>
<div class="t rl" style="top:80.70px">Isoamyl acetate</div>
<div class="t rl" style="top:91.40px">Octane</div>
<div class="t rl" style="top:102.10px">Octanoic acid</div>
<div class="t rl" style="top:112.80px;padding-right:1.8px">2,3-Octanedione</div>
<div class="t rl" style="top:123.50px">Hexanoic acid</div>
<div class="t rl" style="top:134.20px">(E)-2-Decenal</div>
<div class="t rl" style="top:144.90px">1-Octanol</div>
<div class="t rl" style="top:155.60px">Hexanal</div>
<div class="t rl" style="top:166.30px">Dodecane</div>
<div class="t rl" style="top:177.00px">1-Nonanol</div>
<div class="t rl" style="top:187.70px">2-Phenyl ethanol</div>
<div class="t rl" style="top:198.40px">Tridecane</div>
<div class="t rl" style="top:209.10px">(E)-2-Nonenal</div>
<div class="t rl" style="top:219.80px">2-Heptanone</div>
<div class="t rl" style="top:230.50px">Decanal</div>
<div class="t rl" style="top:241.20px">1-Heptanol</div>
<div class="t rl" style="top:251.90px">Undecane</div>
<div class="t rl" style="top:262.60px">Octanal</div>
<div class="t rl" style="top:273.30px">Heptanal</div>
<div class="t rl" style="top:284.00px">1-Octen-3-ol</div>
<div class="t rl" style="top:294.70px">Nonanal</div>
<div class="t rl" style="top:305.40px">2-Octanone</div>
<div class="t rl" style="top:316.10px">2-Ethylhexyl acetate</div>
<div class="t rl" style="top:326.80px">Nonyl acetate</div>
<div class="t rl" style="top:337.50px">2-Nonanone</div>
<div class="t rl" style="top:348.20px">2-Ethyl-hexanol</div>
<div class="t rl" style="top:358.90px">Decyl acetate</div>
<div class="t rl" style="top:369.60px">(Z)-6-Nonenal</div>
<div class="t rl" style="top:380.30px">1-Dodecanol</div>
<div class="t rl" style="top:391.00px">Methyl salicylate</div>
<div class="t rl" style="top:401.70px">Sulcatone</div>
<div class="t rl" style="top:412.40px">Benzyl acetate</div>
<div class="tag tg-B" style="left:24.70px;top:6.90px;background:#d9d9d9">B</div>
<div class="tag tg-PD" style="left:35.40px;top:6.90px;background:#f8cbad">PD</div>
<div class="tag tg-B" style="left:24.70px;top:17.25px;background:#d9d9d9">B</div>
<div class="tag tg-PD" style="left:35.40px;top:17.25px;background:#f8cbad">PD</div>
<div class="tag tg-B" style="left:24.70px;top:28.15px;background:#d9d9d9">B</div>
<div class="tag tg-PD" style="left:35.40px;top:28.15px;background:#f8cbad">PD</div>
<div class="tag tg-B" style="left:24.70px;top:38.65px;background:#d9d9d9">B</div>
<div class="tag tg-PD" style="left:35.40px;top:38.65px;background:#f8cbad">PD</div>
<div class="tag tg-H" style="left:13.90px;top:50.35px;background:#ffff00">H</div>
<div class="tag tg-B" style="left:24.70px;top:50.35px;background:#d9d9d9">B</div>
<div class="tag tg-B" style="left:24.70px;top:60.35px;background:#d9d9d9">B</div>
<div class="tag tg-PD" style="left:35.40px;top:60.35px;background:#f8cbad">PD</div>
<div class="tag tg-PD" style="left:35.40px;top:70.35px;background:#f8cbad">PD</div>
<div class="tag tg-B" style="left:24.70px;top:80.75px;background:#d9d9d9">B</div>
<div class="tag tg-PD" style="left:35.40px;top:80.75px;background:#f8cbad">PD</div>
<div class="tag tg-PD" style="left:35.40px;top:92.15px;background:#f8cbad">PD</div>
<div class="tag tg-B" style="left:24.70px;top:102.15px;background:#d9d9d9">B</div>
<div class="tag tg-PD" style="left:35.40px;top:102.15px;background:#f8cbad">PD</div>
<div class="tag tg-B" style="left:24.70px;top:113.15px;background:#d9d9d9">B</div>
<div class="tag tg-PD" style="left:35.40px;top:113.15px;background:#f8cbad">PD</div>
<div class="tag tg-B" style="left:24.70px;top:123.85px;background:#d9d9d9">B</div>
<div class="tag tg-PD" style="left:35.40px;top:123.85px;background:#f8cbad">PD</div>
<div class="tag tg-B" style="left:24.70px;top:135.75px;background:#d9d9d9">B</div>
<div class="tag tg-PD" style="left:35.40px;top:135.75px;background:#f8cbad">PD</div>
<div class="tag tg-B" style="left:24.70px;top:145.45px;background:#d9d9d9">B</div>
<div class="tag tg-PD" style="left:35.40px;top:145.45px;background:#f8cbad">PD</div>
<div class="tag tg-B" style="left:24.70px;top:155.85px;background:#d9d9d9">B</div>
<div class="tag tg-PD" style="left:35.40px;top:155.85px;background:#f8cbad">PD</div>
<div class="tag tg-B" style="left:24.70px;top:167.15px;background:#d9d9d9">B</div>
<div class="tag tg-PD" style="left:35.40px;top:167.15px;background:#f8cbad">PD</div>
<div class="tag tg-B" style="left:24.70px;top:176.95px;background:#d9d9d9">B</div>
<div class="tag tg-PD" style="left:35.40px;top:176.95px;background:#f8cbad">PD</div>
<div class="tag tg-B" style="left:24.70px;top:188.15px;background:#d9d9d9">B</div>
<div class="tag tg-PD" style="left:35.40px;top:188.15px;background:#f8cbad">PD</div>
<div class="tag tg-H" style="left:13.90px;top:198.15px;background:#ffff00">H</div>
<div class="tag tg-H" style="left:13.90px;top:209.45px;background:#ffff00">H</div>
<div class="tag tg-PD" style="left:35.40px;top:209.45px;background:#f8cbad">PD</div>
<div class="tag tg-H" style="left:13.90px;top:220.35px;background:#ffff00">H</div>
<div class="tag tg-B" style="left:24.70px;top:220.35px;background:#d9d9d9">B</div>
<div class="tag tg-PD" style="left:35.40px;top:220.35px;background:#f8cbad">PD</div>
<div class="tag tg-B" style="left:24.70px;top:230.95px;background:#d9d9d9">B</div>
<div class="tag tg-PD" style="left:35.40px;top:230.95px;background:#f8cbad">PD</div>
<div class="tag tg-B" style="left:24.70px;top:241.95px;background:#d9d9d9">B</div>
<div class="tag tg-PD" style="left:35.40px;top:241.95px;background:#f8cbad">PD</div>
<div class="tag tg-PD" style="left:35.40px;top:252.65px;background:#f8cbad">PD</div>
<div class="tag tg-B" style="left:24.70px;top:263.35px;background:#d9d9d9">B</div>
<div class="tag tg-PD" style="left:35.40px;top:263.35px;background:#f8cbad">PD</div>
<div class="tag tg-B" style="left:24.70px;top:272.35px;background:#d9d9d9">B</div>
<div class="tag tg-PD" style="left:35.40px;top:272.35px;background:#f8cbad">PD</div>
<div class="tag tg-H" style="left:13.90px;top:282.55px;background:#ffff00">H</div>
<div class="tag tg-B" style="left:24.70px;top:292.75px;background:#d9d9d9">B</div>
<div class="tag tg-PD" style="left:35.40px;top:292.75px;background:#f8cbad">PD</div>
<div class="tag tg-B" style="left:24.70px;top:304.45px;background:#d9d9d9">B</div>
<div class="tag tg-PD" style="left:35.40px;top:304.45px;background:#f8cbad">PD</div>
<div class="tag tg-H" style="left:13.90px;top:314.75px;background:#ffff00">H</div>
<div class="tag tg-H" style="left:13.90px;top:325.95px;background:#ffff00">H</div>
<div class="tag tg-B" style="left:24.70px;top:336.15px;background:#d9d9d9">B</div>
<div class="tag tg-PD" style="left:35.40px;top:336.15px;background:#f8cbad">PD</div>
<div class="tag tg-H" style="left:13.90px;top:347.55px;background:#ffff00">H</div>
<div class="tag tg-B" style="left:24.70px;top:347.55px;background:#d9d9d9">B</div>
<div class="tag tg-PD" style="left:35.40px;top:347.55px;background:#f8cbad">PD</div>
<div class="tag tg-H" style="left:13.90px;top:357.85px;background:#ffff00">H</div>
<div class="tag tg-H" style="left:13.90px;top:368.75px;background:#ffff00">H</div>
<div class="tag tg-B" style="left:24.70px;top:368.75px;background:#d9d9d9">B</div>
<div class="tag tg-PD" style="left:35.40px;top:368.75px;background:#f8cbad">PD</div>
<div class="tag tg-P" style="left:3.00px;top:379.55px;background:#5cc43e">P</div>
<div class="tag tg-B" style="left:24.70px;top:379.55px;background:#d9d9d9">B</div>
<div class="tag tg-PD" style="left:35.40px;top:379.55px;background:#f8cbad">PD</div>
<div class="tag tg-P" style="left:3.00px;top:388.85px;background:#5cc43e">P</div>
<div class="tag tg-PD" style="left:35.40px;top:388.85px;background:#f8cbad">PD</div>
<div class="tag tg-H" style="left:13.90px;top:400.95px;background:#ffff00">H</div>
<div class="tag tg-P" style="left:3.00px;top:411.35px;background:#5cc43e">P</div>
<div class="tag tg-B" style="left:525.20px;top:7.25px;background:#d9d9d9">B</div>
<div class="tag tg-PD" style="left:535.90px;top:7.25px;background:#f8cbad">PD</div>
<div class="tag tg-B" style="left:525.20px;top:17.45px;background:#d9d9d9">B</div>
<div class="tag tg-PD" style="left:535.90px;top:17.45px;background:#f8cbad">PD</div>
<div class="tag tg-B" style="left:525.20px;top:28.55px;background:#d9d9d9">B</div>
<div class="tag tg-PD" style="left:535.90px;top:28.55px;background:#f8cbad">PD</div>
<div class="tag tg-B" style="left:525.20px;top:39.85px;background:#d9d9d9">B</div>
<div class="tag tg-PD" style="left:535.90px;top:39.85px;background:#f8cbad">PD</div>
<div class="tag tg-B" style="left:525.20px;top:49.65px;background:#d9d9d9">B</div>
<div class="tag tg-PD" style="left:535.90px;top:49.65px;background:#f8cbad">PD</div>
<div class="tag tg-B" style="left:525.20px;top:61.45px;background:#d9d9d9">B</div>
<div class="tag tg-PD" style="left:535.90px;top:61.45px;background:#f8cbad">PD</div>
<div class="tag tg-B" style="left:525.20px;top:71.25px;background:#d9d9d9">B</div>
<div class="tag tg-PD" style="left:535.90px;top:71.25px;background:#f8cbad">PD</div>
<div class="tag tg-H" style="left:514.60px;top:81.15px;background:#ffff00">H</div>
<div class="tag tg-B" style="left:525.20px;top:81.15px;background:#d9d9d9">B</div>
<div class="tag tg-PD" style="left:535.90px;top:92.65px;background:#f8cbad">PD</div>
<div class="tag tg-B" style="left:525.20px;top:102.95px;background:#d9d9d9">B</div>
<div class="tag tg-PD" style="left:535.90px;top:102.95px;background:#f8cbad">PD</div>
<div class="tag tg-PD" style="left:535.90px;top:114.05px;background:#f8cbad">PD</div>
<div class="tag tg-B" style="left:525.20px;top:124.65px;background:#d9d9d9">B</div>
<div class="tag tg-PD" style="left:535.90px;top:124.65px;background:#f8cbad">PD</div>
<div class="tag tg-B" style="left:525.20px;top:136.05px;background:#d9d9d9">B</div>
<div class="tag tg-PD" style="left:535.90px;top:136.05px;background:#f8cbad">PD</div>
<div class="tag tg-B" style="left:525.20px;top:145.85px;background:#d9d9d9">B</div>
<div class="tag tg-PD" style="left:535.90px;top:145.85px;background:#f8cbad">PD</div>
<div class="tag tg-B" style="left:525.20px;top:155.85px;background:#d9d9d9">B</div>
<div class="tag tg-PD" style="left:535.90px;top:155.85px;background:#f8cbad">PD</div>
<div class="tag tg-B" style="left:525.20px;top:167.55px;background:#d9d9d9">B</div>
<div class="tag tg-PD" style="left:535.90px;top:167.55px;background:#f8cbad">PD</div>
<div class="tag tg-H" style="left:514.60px;top:177.85px;background:#ffff00">H</div>
<div class="tag tg-PD" style="left:535.90px;top:177.85px;background:#f8cbad">PD</div>
<div class="tag tg-H" style="left:514.60px;top:188.75px;background:#ffff00">H</div>
<div class="tag tg-B" style="left:525.20px;top:198.75px;background:#d9d9d9">B</div>
<div class="tag tg-PD" style="left:535.90px;top:198.75px;background:#f8cbad">PD</div>
<div class="tag tg-B" style="left:525.20px;top:210.65px;background:#d9d9d9">B</div>
<div class="tag tg-PD" style="left:535.90px;top:210.65px;background:#f8cbad">PD</div>
<div class="tag tg-H" style="left:514.60px;top:220.95px;background:#ffff00">H</div>
<div class="tag tg-B" style="left:525.20px;top:220.95px;background:#d9d9d9">B</div>
<div class="tag tg-PD" style="left:535.90px;top:220.95px;background:#f8cbad">PD</div>
<div class="tag tg-B" style="left:525.20px;top:232.45px;background:#d9d9d9">B</div>
<div class="tag tg-PD" style="left:535.90px;top:232.45px;background:#f8cbad">PD</div>
<div class="tag tg-PD" style="left:535.90px;top:242.45px;background:#f8cbad">PD</div>
<div class="tag tg-B" style="left:525.20px;top:253.95px;background:#d9d9d9">B</div>
<div class="tag tg-PD" style="left:535.90px;top:253.95px;background:#f8cbad">PD</div>
<div class="tag tg-B" style="left:525.20px;top:264.25px;background:#d9d9d9">B</div>
<div class="tag tg-PD" style="left:535.90px;top:264.25px;background:#f8cbad">PD</div>
<div class="tag tg-B" style="left:525.20px;top:274.15px;background:#d9d9d9">B</div>
<div class="tag tg-PD" style="left:535.90px;top:274.15px;background:#f8cbad">PD</div>
<div class="tag tg-P" style="left:503.60px;top:285.05px;background:#5cc43e">P</div>
<div class="tag tg-B" style="left:525.20px;top:285.05px;background:#d9d9d9">B</div>
<div class="tag tg-PD" style="left:535.90px;top:285.05px;background:#f8cbad">PD</div>
<div class="tag tg-B" style="left:525.20px;top:295.95px;background:#d9d9d9">B</div>
<div class="tag tg-PD" style="left:535.90px;top:295.95px;background:#f8cbad">PD</div>
<div class="tag tg-H" style="left:514.60px;top:307.05px;background:#ffff00">H</div>
<div class="tag tg-B" style="left:525.20px;top:307.05px;background:#d9d9d9">B</div>
<div class="tag tg-PD" style="left:535.90px;top:307.05px;background:#f8cbad">PD</div>
<div class="tag tg-H" style="left:514.60px;top:317.15px;background:#ffff00">H</div>
<div class="tag tg-H" style="left:514.60px;top:328.35px;background:#ffff00">H</div>
<div class="tag tg-H" style="left:514.60px;top:339.05px;background:#ffff00">H</div>
<div class="tag tg-B" style="left:525.20px;top:339.05px;background:#d9d9d9">B</div>
<div class="tag tg-PD" style="left:535.90px;top:339.05px;background:#f8cbad">PD</div>
<div class="tag tg-B" style="left:525.20px;top:349.05px;background:#d9d9d9">B</div>
<div class="tag tg-PD" style="left:535.90px;top:349.05px;background:#f8cbad">PD</div>
<div class="tag tg-H" style="left:514.60px;top:357.65px;background:#ffff00">H</div>
<div class="tag tg-B" style="left:525.20px;top:368.05px;background:#d9d9d9">B</div>
<div class="tag tg-PD" style="left:535.90px;top:368.05px;background:#f8cbad">PD</div>
<div class="tag tg-H" style="left:514.60px;top:378.55px;background:#ffff00">H</div>
<div class="tag tg-P" style="left:503.60px;top:390.25px;background:#5cc43e">P</div>
<div class="tag tg-PD" style="left:535.90px;top:390.25px;background:#f8cbad">PD</div>
<div class="tag tg-P" style="left:503.60px;top:400.45px;background:#5cc43e">P</div>
<div class="tag tg-H" style="left:514.60px;top:411.15px;background:#ffff00">H</div>
<div class="n" style="left:52.70px;top:425.8px">50</div>
<div class="n" style="left:192.10px;top:425.8px">0</div>
<div class="n b" style="left:326.90px;top:426.5px">0</div>
<div class="n b" style="left:464.20px;top:426.5px">50</div>
<div class="title">Average Electroantennogram Amplitude (mV)</div>
</body></html>
